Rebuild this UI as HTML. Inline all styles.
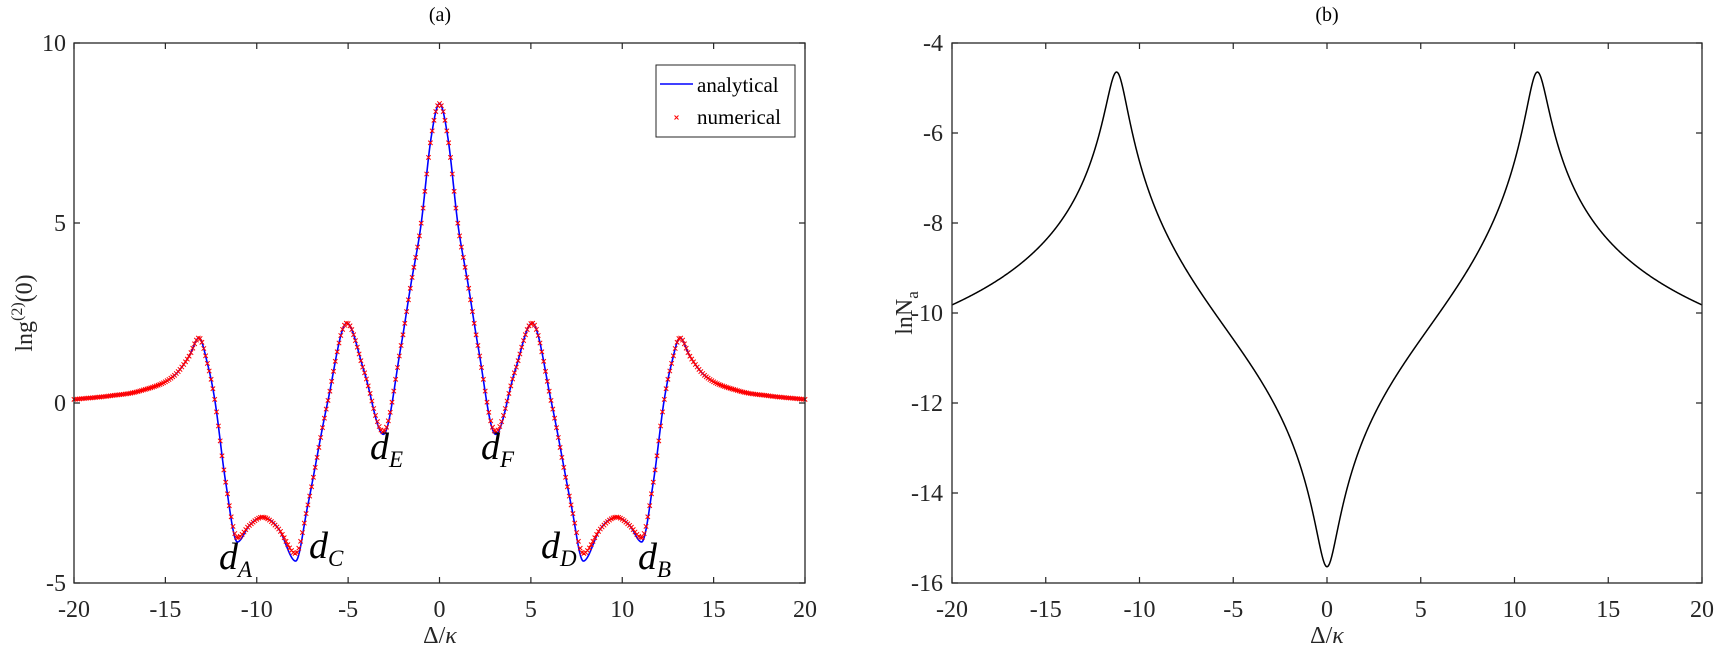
<!DOCTYPE html>
<html><head><meta charset="utf-8"><style>
html,body{margin:0;padding:0;background:#fff;}
svg{display:block;font-family:"Liberation Serif",serif;}
</style></head><body>
<svg id="s" width="1716" height="652" xmlns="http://www.w3.org/2000/svg">
<rect width="1716" height="652" fill="#fff"/>
<g id="g"></g>
<rect x="74" y="43" width="731" height="540" fill="none" stroke="#262626" stroke-width="1.3"/>
<rect x="952" y="43" width="750" height="540" fill="none" stroke="#262626" stroke-width="1.3"/>
<g id="ticks" stroke="#262626" stroke-width="1.2"></g>
<g id="labels" font-size="24" fill="#262626" font-family="Liberation Serif, serif"></g>
<text x="440" y="21" font-size="20" text-anchor="middle" fill="#000">(a)</text>
<text x="1327" y="21" font-size="20" text-anchor="middle" fill="#000">(b)</text>
<text x="440" y="643" font-size="24" text-anchor="middle" fill="#262626">Δ/<tspan font-style="italic">κ</tspan></text>
<text x="1327" y="643" font-size="24" text-anchor="middle" fill="#262626">Δ/<tspan font-style="italic">κ</tspan></text>
<text transform="translate(32,313) rotate(-90)" font-size="24" text-anchor="middle" fill="#262626">lng<tspan font-size="16" dy="-10">(2)</tspan><tspan dy="10">(0)</tspan></text>
<text transform="translate(912,313) rotate(-90)" font-size="24" text-anchor="middle" fill="#262626">lnN<tspan font-size="17" dy="6">a</tspan></text>
<g font-size="38" font-style="italic" fill="#000" font-family="Liberation Serif, serif">
<text x="219" y="569">d<tspan font-size="23" dy="8">A</tspan></text>
<text x="309" y="558">d<tspan font-size="23" dy="8">C</tspan></text>
<text x="370" y="459">d<tspan font-size="23" dy="8">E</tspan></text>
<text x="481" y="459">d<tspan font-size="23" dy="8">F</tspan></text>
<text x="541" y="558">d<tspan font-size="23" dy="8">D</tspan></text>
<text x="638" y="569">d<tspan font-size="23" dy="8">B</tspan></text>
</g>
<rect x="656" y="65" width="139" height="72" fill="#fff" stroke="#262626" stroke-width="1"/>
<line x1="660" y1="84" x2="693" y2="84" stroke="#0000ff" stroke-width="1.6"/>
<text x="697" y="92" font-size="21" fill="#000">analytical</text>
<path d="M674.5,115.5 l4,4 M678.5,115.5 l-4,4" stroke="#f00" stroke-width="1"/>
<text x="697" y="124" font-size="21" fill="#000">numerical</text>
</svg>
<script>
function mono(xs,ys){var n=xs.length,d=[],m=[];for(var i=0;i<n-1;i++)d.push((ys[i+1]-ys[i])/(xs[i+1]-xs[i]));
m[0]=d[0];m[n-1]=d[n-2];for(i=1;i<n-1;i++){m[i]=(d[i-1]*d[i]<=0)?0:(d[i-1]+d[i])/2;}
for(i=0;i<n-1;i++){if(d[i]==0){m[i]=m[i+1]=0;continue;}var a=m[i]/d[i],b=m[i+1]/d[i],s=a*a+b*b;if(s>9){var t=3/Math.sqrt(s);m[i]=t*a*d[i];m[i+1]=t*b*d[i];}}
return function(x){var i=0;while(i<n-2&&x>xs[i+1])i++;var h=xs[i+1]-xs[i],t=(x-xs[i])/h,t2=t*t,t3=t2*t;
return (2*t3-3*t2+1)*ys[i]+(t3-2*t2+t)*h*m[i]+(-2*t3+3*t2)*ys[i+1]+(t3-t2)*h*m[i+1];};}
function sym(pts){var xs=[],ys=[];pts.forEach(function(p){xs.push(p[0]);ys.push(p[1]);});
for(var i=pts.length-2;i>=0;i--){xs.push(-pts[i][0]);ys.push(pts[i][1]);}return mono(xs,ys);}
var A=[[-20,0.1],[-18,0.2],[-16.35,0.34],[-14.5,0.77],[-13.7,1.3],[-13.16,1.81],[-12.7,1.1],[-12.3,0.1],[-11.7,-2.2],[-11.06,-3.86],[-10.4,-3.4],[-9.69,-3.17],[-8.8,-3.5],[-7.87,-4.39],[-7.23,-2.9],[-6.13,0],[-5.07,2.22],[-4.12,0.87],[-3.07,-0.87],[-2.12,1.54],[-1.57,3.28],[-1.02,4.92],[-0.45,7.4],[0,8.32]];
var N=A.map(function(p){var q=p.slice();if(p[0]==-11.06)q[1]=-3.74;if(p[0]==-7.87)q[1]=-4.18;if(p[0]==-3.07)q[1]=-0.8;return q;});
var fa=sym(A),fn=sym(N);
function fb(x){var x2=x*x,p2=125.4,g2=134.5,e2=0.25;return -4.58+Math.log((x2+e2)/((x2-p2)*(x2-p2)+g2));}
function LX(x){return 74+(x+20)*731/40;}function LY(y){return 43+(10-y)*36;}
function RX(x){return 952+(x+20)*750/40;}function RY(y){return 43+(-4-y)*45;}
var g=document.getElementById('g'),h='';
var p='';for(var x=-20;x<=20.0001;x+=0.02){p+=(p?'L':'M')+LX(x).toFixed(2)+','+LY(fa(x)).toFixed(2);}
h+='<path d="'+p+'" fill="none" stroke="#0000ff" stroke-width="1.6"/>';
var q='';for(var i=0;i<=400;i++){x=-20+i*0.1;var cx=LX(x),cy=LY(fn(x));q+='M'+(cx-2.2).toFixed(1)+','+(cy-2.2).toFixed(1)+'l4.4,4.4M'+(cx+2.2).toFixed(1)+','+(cy-2.2).toFixed(1)+'l-4.4,4.4';}
h+='<path d="'+q+'" fill="none" stroke="#ff0000" stroke-width="1"/>';
p='';for(x=-20;x<=20.0001;x+=0.02){p+=(p?'L':'M')+RX(x).toFixed(2)+','+RY(fb(x)).toFixed(2);}
h+='<path d="'+p+'" fill="none" stroke="#000" stroke-width="1.5"/>';
g.innerHTML=h;
var t='',l='';
for(var k=-20;k<=20;k+=5){var a=LX(k),b=RX(k);
t+='<path d="M'+a+',43v6M'+a+',583v-6M'+b+',43v6M'+b+',583v-6"/>';
l+='<text x="'+a+'" y="617" text-anchor="middle">'+k+'</text><text x="'+b+'" y="617" text-anchor="middle">'+k+'</text>';}
[-5,0,5,10].forEach(function(v){var y=LY(v);t+='<path d="M74,'+y+'h6M805,'+y+'h-6"/>';l+='<text x="66" y="'+(y+8)+'" text-anchor="end">'+v+'</text>';});
[-4,-6,-8,-10,-12,-14,-16].forEach(function(v){var y=RY(v);t+='<path d="M952,'+y+'h6M1702,'+y+'h-6"/>';l+='<text x="943" y="'+(y+8)+'" text-anchor="end">'+v+'</text>';});
document.getElementById('ticks').innerHTML=t;document.getElementById('labels').innerHTML=l;
</script>
</body></html>
